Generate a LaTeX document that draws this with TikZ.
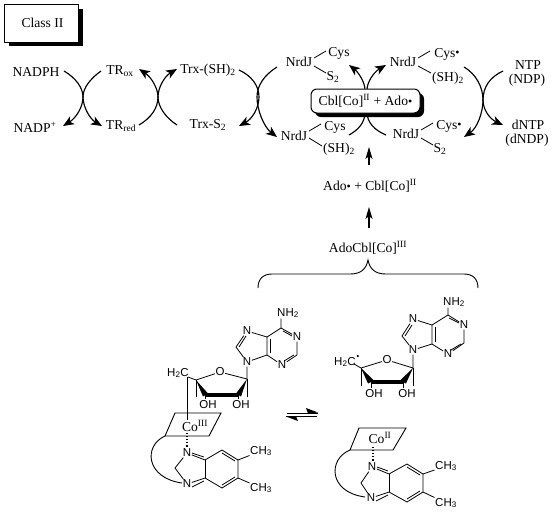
\documentclass[tikz,border=0pt]{standalone}
\usepackage{fontspec}
\setmainfont{Liberation Serif}
\newfontfamily\hv{Liberation Sans}
\usetikzlibrary{arrows.meta}
\tikzset{
  txt/.style={inner sep=0pt,font=\fontsize{13.6}{14}\selectfont},
  atom/.style={inner sep=0.5pt,font=\hv\fontsize{11.5}{12}\selectfont},
  bnd/.style={line width=0.8pt},
  dotbond/.style={line width=1.1pt,dash pattern=on 1.1pt off 2pt},
  arr/.style={line width=1.15pt,-{Stealth[length=11pt,width=9pt,inset=3pt]}},
  uparr/.style={line width=1.15pt,-{Stealth[length=12pt,width=7pt,inset=3pt]}},
  thick bond/.style={line width=3.2pt},
  plane/.style={line width=0.9pt,fill=white}
}
\newcommand{\rad}{\raisebox{0.1ex}{\fontsize{12}{12}\selectfont\textbullet}}
\begin{document}
\begin{tikzpicture}[x=1pt,y=-1pt]
\useasboundingbox (0,0) rectangle (552,512);
% title box
\fill[black] (9,9) rectangle (82.5,46);
\node[draw,line width=0.9pt,fill=white,minimum width=74pt,minimum height=38pt,inner sep=0pt,font=\fontsize{13.6}{14}\selectfont] (cls) at (41,23) {\hspace{3pt}Class II};
% top row labels
\node[txt] (nadph) at (36,72) {NADPH};
\node[txt] (nadp) at (35,127) {NADP\textsuperscript{+}};
\node[txt] (trox) at (120,71) {TR\textsubscript{ox}};
\node[txt] (trred) at (121,126) {TR\textsubscript{red}};
\node[txt] (trxsh) at (208,70) {Trx-(SH)\textsubscript{2}};
\node[txt] (trxs) at (208,125) {Trx-S\textsubscript{2}};
\coordinate (m1) at (83,97);
\coordinate (m2) at (158,97);
\coordinate (m5) at (483,100);
\draw[arr] (64,71) .. controls (76,78) and (83,88) .. (m1) .. controls (83,107) and (76,118) .. (63,126);
\draw[arr] (101,71) .. controls (90,79) and (83,88) .. (m1) .. controls (83,107) and (90,119) .. (102,126);
\draw[arr] (139,125) .. controls (151,118) and (158,108) .. (m2) .. controls (158,88) and (151,77) .. (139,69);
\draw[arr] (177,125) .. controls (166,118) and (158,107) .. (m2) .. controls (158,87) and (165,76) .. (177,69);
\draw[arr] (239,70) .. controls (252,76) and (259,86) .. (259,97) .. controls (259,108) and (252,119) .. (239,126);
% NrdJ labels
\node[txt] (nj1) at (299,62) {NrdJ};
\node[txt] (c1) at (339,53) {Cys};
\node[txt] (s1) at (333,77) {S\textsubscript{2}};
\draw[bnd] (314,58) -- (326,51);
\draw[bnd] (314,66) -- (326,73);
\node[txt] (nj2) at (403,62) {NrdJ};
\node[txt] (c2) at (447,54) {Cys\rad};
\node[txt] (s2) at (448,78) {(SH)\textsubscript{2}};
\draw[bnd] (418,58) -- (430,51);
\draw[bnd] (418,66) -- (431,73);
\node[txt] (nj3) at (294,136) {NrdJ};
\node[txt] (c3) at (335,127) {Cys};
\node[txt] (s3) at (339,149) {(SH)\textsubscript{2}};
\draw[bnd] (309,131) -- (321,124);
\draw[bnd] (309,138) -- (322,146);
\node[txt] (nj4) at (406,134) {NrdJ};
\node[txt] (c4) at (449,126) {Cys\rad};
\node[txt] (s4) at (440,149) {S\textsubscript{2}};
\draw[bnd] (421,130) -- (433,123);
\draw[bnd] (421,138) -- (433,145);
% NrdJ arcs
\draw[arr] (277,67) .. controls (264,75) and (257,86) .. (257,97) .. controls (257,110) and (264,127) .. (277,137);
\draw[arr] (349,135) .. controls (358,130) and (365,123) .. (365,112) -- (365,90) .. controls (365,82) and (358,72) .. (349,65);
\draw[arr] (386,135) .. controls (374,130) and (367,122) .. (367,112) -- (367,90) .. controls (367,82) and (374,72) .. (386,65);
% central box
\fill[black,rounded corners=6pt] (315,93) rectangle (424,117);
\node[draw,line width=1pt,fill=white,rounded corners=6pt,minimum width=109pt,minimum height=24pt,inner sep=0pt,font=\fontsize{13.6}{14}\selectfont] (cbl) at (365.5,101) {Cbl[Co]\textsuperscript{II} + Ado\rad};
% right arcs
\draw[arr] (464,67) .. controls (476,74) and (483,87) .. (m5) .. controls (483,113) and (477,128) .. (464,137);
\draw[arr] (503,71) .. controls (490,77) and (483,87) .. (m5) .. controls (483,110) and (490,119) .. (503,125);
\node[txt] (ntp) at (528,65.5) {NTP};
\node[txt] (ndp) at (527,80) {(NDP)};
\node[txt] (dntp) at (528,125) {dNTP};
\node[txt] (dndp) at (527,140) {(dNDP)};
% vertical flow
\node[txt] (ado) at (370,186) {Ado\rad{} + Cbl[Co]\textsuperscript{II}};
\node[txt] (adocbl) at (368,248) {AdoCbl[Co]\textsuperscript{III}};
\draw[uparr] (369,165) -- (369,147);
\draw[uparr] (369,228) -- (369,207);
% brace
\draw[line width=0.9pt] (258,288) .. controls (258,279) and (263,274) .. (272,274) -- (350,274) .. controls (360,274) and (366,270) .. (368,260) .. controls (370,270) and (376,274) .. (386,274) -- (464,274) .. controls (473,274) and (478,279) .. (478,288);
%% LEFT MOLECULE
\node[atom] (nh2a) at (288,313) {NH\textsubscript{2}};
\node[atom] (n1a) at (297,337) {N};
\node[atom] (n3a) at (282,365) {N};
\node[atom] (n7a) at (247,331) {N};
\node[atom] (n9a) at (247,362) {N};
\coordinate (c6a) at (281,328);
\coordinate (c5a) at (267,337);
\coordinate (c4a) at (267,355);
\coordinate (c2a) at (297,355);
\coordinate (c8a) at (236,347);
\draw[bnd] (nh2a.south -| c6a) -- (c6a) -- (c5a) -- (c4a);
\draw[bnd] (c5a) -- (n7a) (c4a) -- (n9a) (n9a) -- (c8a) -- (n7a);
\draw[bnd] (c4a) -- (n3a) -- (c2a) -- (n1a) -- (c6a);
\draw[bnd] (270,339) -- (270,353);
\draw[bnd] (283,331) -- (292,336);
\draw[bnd] (284,361) -- (294,355);
\draw[bnd] (239,347) -- (246,336);
% sugar
\node[atom] (oa) at (220,372) {O};
\coordinate (c1a) at (247,379);
\coordinate (c4pa) at (196,380);
\coordinate (c3a) at (205,395);
\coordinate (c2pa) at (238,395);
\draw[bnd] (n9a) -- (c1a) -- (oa) -- (c4pa);
\fill (c4pa) -- (203,396.5) -- (208,393.5) -- cycle;
\fill (c1a) -- (241,396.5) -- (236,393.5) -- cycle;
\draw[thick bond] (c3a) -- (c2pa);
\draw[bnd] (c4pa) -- (196,397);
\draw[bnd] (c1a) -- (247,397);
\node[atom] (oh1) at (208,405) {OH};
\node[atom] (oh2) at (241,405) {OH};
\draw[bnd] (c3a) -- (205,399);
\draw[bnd] (c2pa) -- (238,399);
\node[atom] (h2c) at (178,373) {H\textsubscript{2}C};
\draw[bnd] (188,377) -- (c4pa);
% plane
\coordinate (pa1) at (175,413);
\coordinate (pa2) at (221,413);
\coordinate (pa3) at (209,436);
\coordinate (pa4) at (165,436);
\draw[plane] (pa1) -- (pa2) -- (pa3) -- (pa4) -- cycle;
\node[txt] (coa) at (195,426) {Co\textsuperscript{III}};
\draw[bnd] (187,377) -- (187,420);
\draw[dotbond] (187,433) -- (187,448);
\node[atom] (na) at (187,453) {N};
\node[atom] (nb) at (187,484) {N};
\coordinate (cm) at (175,468);
\coordinate (b1) at (205,460);
\coordinate (b2) at (222,450);
\coordinate (b3) at (238,460);
\coordinate (b4) at (238,478);
\coordinate (b5) at (222,488);
\coordinate (b6) at (205,478);
\draw[bnd] (na) -- (cm) -- (nb);
\draw[bnd] (na) -- (b1) -- (b2) -- (b3) -- (b4) -- (b5) -- (b6) -- (nb);
\draw[bnd] (b1) -- (b6);
\draw[bnd] (192,453) -- (204,457);
\draw[bnd] (192,487) -- (204,481);
\draw[bnd] (222,453) -- (235,461);
\draw[bnd] (235,477) -- (222,485);
\node[atom] (me1) at (261,451) {CH\textsubscript{3}};
\node[atom] (me2) at (261,488) {CH\textsubscript{3}};
\draw[bnd] (b3) -- (me1);
\draw[bnd] (b4) -- (me2);
\draw[line width=0.9pt] (pa4) .. controls (143,446) and (146,478) .. (182,483);
%% RIGHT MOLECULE
\node[atom] (nh2b) at (454,302) {NH\textsubscript{2}};
\node[atom] (n1b) at (464,325) {N};
\node[atom] (n3b) at (448,354) {N};
\node[atom] (n7b) at (413,319) {N};
\node[atom] (n9b) at (413,350) {N};
\coordinate (c6b) at (448,315);
\coordinate (c5b) at (432,325);
\coordinate (c4b) at (432,344);
\coordinate (c2b) at (464,343);
\coordinate (c8b) at (402,336);
\draw[bnd] (nh2b.south -| c6b) -- (c6b) -- (c5b) -- (c4b);
\draw[bnd] (c5b) -- (n7b) (c4b) -- (n9b) (n9b) -- (c8b) -- (n7b);
\draw[bnd] (c4b) -- (n3b) -- (c2b) -- (n1b) -- (c6b);
\draw[bnd] (435,327) -- (435,342);
\draw[bnd] (449,318) -- (459,323);
\draw[bnd] (451,350) -- (461,344);
\draw[bnd] (405,336) -- (412,325);
\node[atom] (ob) at (387,360) {O};
\coordinate (c1b) at (413,368);
\coordinate (c4pb) at (361,368);
\coordinate (c3b) at (371,382);
\coordinate (c2pb) at (403,382);
\draw[bnd] (n9b) -- (c1b) -- (ob) -- (c4pb);
\fill (c4pb) -- (368,383.5) -- (374,380.5) -- cycle;
\fill (c1b) -- (406,383.5) -- (400,380.5) -- cycle;
\draw[thick bond] (c3b) -- (c2pb);
\draw[bnd] (c4pb) -- (361,386);
\draw[bnd] (c1b) -- (413,386);
\node[atom] (oh3) at (374,394) {OH};
\node[atom] (oh4) at (407,394) {OH};
\draw[bnd] (c3b) -- (371,388);
\draw[bnd] (c2pb) -- (403,388);
\node[atom] (h2cb) at (345,362) {H\textsubscript{2}C};
\node[font=\fontsize{9}{9}\selectfont,inner sep=0pt] (rdb) at (358,357) {\textbullet};
\draw[bnd] (354,364) -- (c4pb);
\coordinate (pb1) at (359,428);
\coordinate (pb2) at (406,428);
\coordinate (pb3) at (393,450);
\coordinate (pb4) at (350,450);
\draw[plane] (pb1) -- (pb2) -- (pb3) -- (pb4) -- cycle;
\node[txt] (cob) at (380,438) {Co\textsuperscript{II}};
\draw[dotbond] (373,447) -- (373,462);
\node[atom] (nc) at (372,467) {N};
\node[atom] (nd) at (371,498) {N};
\coordinate (cn) at (361,483);
\coordinate (d1) at (389,474);
\coordinate (d2) at (407,464);
\coordinate (d3) at (423,474);
\coordinate (d4) at (423,492);
\coordinate (d5) at (407,502);
\coordinate (d6) at (389,492);
\draw[bnd] (nc) -- (cn) -- (nd);
\draw[bnd] (nc) -- (d1) -- (d2) -- (d3) -- (d4) -- (d5) -- (d6) -- (nd);
\draw[bnd] (d1) -- (d6);
\draw[bnd] (377,467) -- (388,471);
\draw[bnd] (376,501) -- (388,495);
\draw[bnd] (407,467) -- (420,475);
\draw[bnd] (420,491) -- (407,499);
\node[atom] (me3) at (446,466) {CH\textsubscript{3}};
\node[atom] (me4) at (446,503) {CH\textsubscript{3}};
\draw[bnd] (d3) -- (me3);
\draw[bnd] (d4) -- (me4);
\draw[line width=0.9pt] (pb4) .. controls (328,459) and (328,492) .. (365,497);
% equilibrium arrows
\draw[line width=1pt] (287,413) -- (318,413);
\fill (318,412.5) -- (306,408) -- (308,413.5) -- cycle;
\draw[line width=1pt] (286,416.5) -- (317,416.5);
\fill (286,416.5) -- (298,421) -- (296,416) -- cycle;
\end{tikzpicture}
\end{document}
